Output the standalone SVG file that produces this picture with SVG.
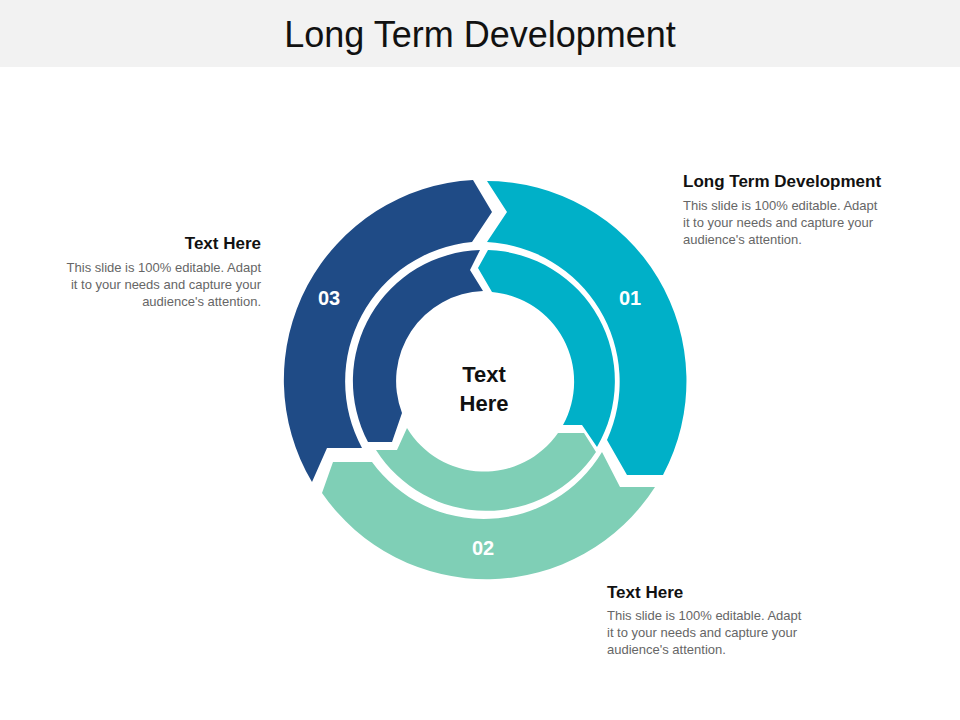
<svg xmlns="http://www.w3.org/2000/svg" width="960" height="720" viewBox="0 0 960 720">
<style>
.t{font-family:"Liberation Sans",Arial,sans-serif}
.h{font-size:17px;font-weight:bold;fill:#111}
.b{font-size:13px;fill:#666}
.n{font-size:20px;font-weight:bold;fill:#fff;text-anchor:middle}
.c1{fill:#00B0C8}.c2{fill:#7FCFB6}.c3{fill:#1F4B86}
</style>
<rect width="960" height="720" fill="#fff"/>
<rect width="960" height="67" fill="#F2F2F2"/>
<text class="t" x="480" y="47" font-size="36" text-anchor="middle" fill="#111">Long Term Development</text>
<g id="seg01">
<path class="c1" d="M487,181 L507,212 L487,242 A140,140 0 0 1 607,440 L627,475 L663,475 A200,200 0 0 0 487,181 Z"/>
<path class="c1" d="M488,250 L478,268 L492,292 A90,90 0 0 1 563,425 L582,425 L597,447 A131,131 0 0 0 488,250 Z"/>
<text class="t n" x="630" y="305">01</text>
</g>
<g id="seg02">
<path class="c2" d="M655,487 A200,200 0 0 1 322,493 L333,462 L372,462 A138,138 0 0 0 602,452 L620,487 Z"/>
<path class="c2" d="M407,428 L397,450 L376,450 A131,131 0 0 0 596,452 L584,433 L558,433 A90,90 0 0 1 407,428 Z"/>
<text class="t n" x="483" y="555">02</text>
</g>
<g id="seg03">
<path class="c3" d="M312,482 A200,200 0 0 1 473,180 L492,212 L472,242 A140,140 0 0 0 362,448 L327,448 Z"/>
<path class="c3" d="M480,250 L470,270 L483,291 A90,90 0 0 0 402,413 L392,442 L368,442 A131,131 0 0 1 480,250 Z"/>
<text class="t n" x="329" y="305">03</text>
</g>
<g id="center">
<text class="t" x="484" y="382" font-size="22" font-weight="bold" text-anchor="middle" fill="#111">Text</text>
<text class="t" x="484" y="411" font-size="22" font-weight="bold" text-anchor="middle" fill="#111">Here</text>
</g>
<g id="label01">
<text class="t h" x="683" y="187">Long Term Development</text>
<text class="t b" x="683" y="210">This slide is 100% editable. Adapt</text>
<text class="t b" x="683" y="227">it to your needs and capture your</text>
<text class="t b" x="683" y="244">audience's attention.</text>
</g>
<g id="label03" text-anchor="end">
<text class="t h" x="261" y="249">Text Here</text>
<text class="t b" x="261" y="272">This slide is 100% editable. Adapt</text>
<text class="t b" x="261" y="289">it to your needs and capture your</text>
<text class="t b" x="261" y="306">audience's attention.</text>
</g>
<g id="label02">
<text class="t h" x="607" y="598">Text Here</text>
<text class="t b" x="607" y="620">This slide is 100% editable. Adapt</text>
<text class="t b" x="607" y="637">it to your needs and capture your</text>
<text class="t b" x="607" y="654">audience's attention.</text>
</g>
<g id="connectors"/>
</svg>
